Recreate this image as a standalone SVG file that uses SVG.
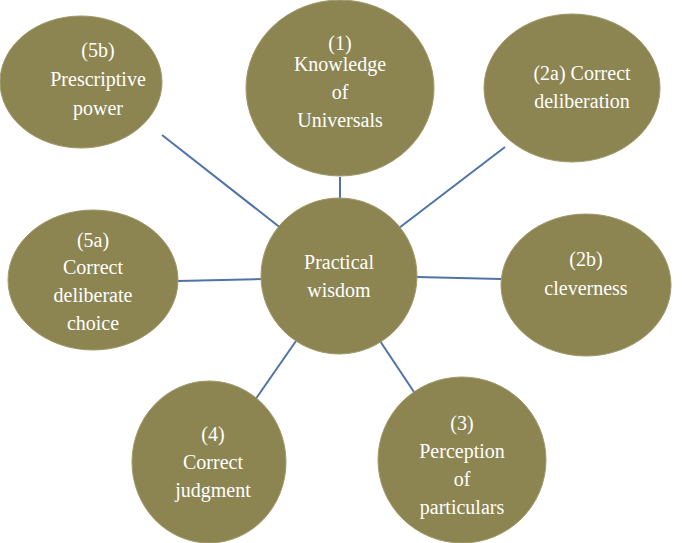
<svg xmlns="http://www.w3.org/2000/svg" width="685" height="543" viewBox="0 0 685 543">
<style>
.n{fill:#8c8552;stroke:#a09a6a;stroke-width:1}
.t{font-family:"Liberation Serif","Times New Roman","DejaVu Serif",serif;font-size:20px;fill:#fff;text-anchor:middle}
.c line{stroke:#4f73a8;stroke-width:2}
</style>
<rect width="685" height="543" fill="#fff"/>
<g class="c">
<line x1="162" y1="135" x2="282" y2="229"/>
<line x1="340" y1="177" x2="340" y2="198"/>
<line x1="505" y1="147" x2="399" y2="228"/>
<line x1="178" y1="281" x2="262" y2="279"/>
<line x1="417" y1="277" x2="501" y2="279"/>
<line x1="255" y1="400" x2="296" y2="341"/>
<line x1="380" y1="341" x2="420" y2="401"/>
</g>
<g id="n1"><ellipse class="n" cx="340" cy="88" rx="94" ry="88"/><text class="t" x="340" y="50">(1)</text><text class="t" x="340" y="71">Knowledge</text><text class="t" x="340" y="99">of</text><text class="t" x="340" y="127">Universals</text></g>
<g id="n5b"><ellipse class="n" cx="81" cy="82" rx="81" ry="66"/><text class="t" x="98" y="57">(5b)</text><text class="t" x="98" y="86">Prescriptive</text><text class="t" x="98" y="115">power</text></g>
<g id="n2a"><ellipse class="n" cx="572" cy="88" rx="88" ry="74"/><text class="t" x="582" y="80">(2a) Correct</text><text class="t" x="582" y="108">deliberation</text></g>
<g id="center"><circle class="n" cx="339" cy="276" r="78"/><text class="t" x="339" y="269">Practical</text><text class="t" x="339" y="297">wisdom</text></g>
<g id="n5a"><ellipse class="n" cx="93" cy="280" rx="85" ry="70"/><text class="t" x="93" y="247">(5a)</text><text class="t" x="93" y="274">Correct</text><text class="t" x="93" y="302">deliberate</text><text class="t" x="93" y="330">choice</text></g>
<g id="n2b"><ellipse class="n" cx="586" cy="285" rx="85" ry="71"/><text class="t" x="586" y="266">(2b)</text><text class="t" x="586" y="295">cleverness</text></g>
<g id="n4"><ellipse class="n" cx="209" cy="462" rx="77" ry="81"/><text class="t" x="213" y="441">(4)</text><text class="t" x="213" y="469">Correct</text><text class="t" x="213" y="497">judgment</text></g>
<g id="n3"><ellipse class="n" cx="462" cy="460" rx="84" ry="83"/><text class="t" x="462" y="430">(3)</text><text class="t" x="462" y="458">Perception</text><text class="t" x="462" y="486">of</text><text class="t" x="462" y="514">particulars</text></g>
</svg>
